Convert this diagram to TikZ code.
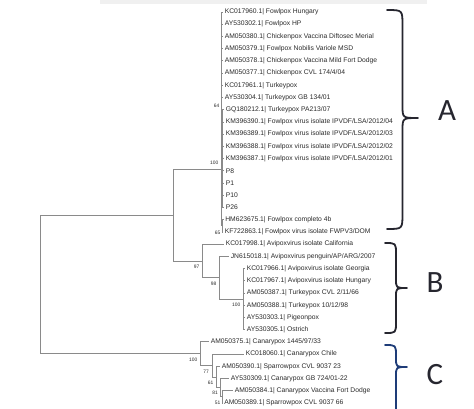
\documentclass[tikz,border=0pt]{standalone}
\usepackage{fontspec}
\setmainfont{Liberation Sans}
\newfontfamily\lettre{Carlito}
\definecolor{trait}{HTML}{8A8A8A}
\definecolor{texte}{HTML}{2A2A2A}
\definecolor{encre}{HTML}{26262F}
\definecolor{marine}{HTML}{1E3C78}

\newcommand{\feuille}[5]{\node[feuille] (#2) at (#3, #4) {#5};
\draw[branche] (#1) |- (#2.west);}
\newcommand{\support}[4]{\node[boot] (#1) at (#2, #3) {#4};}
\newcommand{\accolade}[6]{\draw[#1, line width=1.8pt, line cap=round, line join=round]
(#2, #3) .. controls ({#2+0.5*#6}, #3) .. ({#2+0.5*#6}, {#3+0.5*#6})
-- ({#2+0.5*#6}, {#4-0.4*#6}) .. controls ({#2+0.5*#6}, #4) .. ({#2+#6}, #4)
.. controls ({#2+0.5*#6}, #4) .. ({#2+0.5*#6}, {#4+0.4*#6})
-- ({#2+0.5*#6}, {#5-0.5*#6}) .. controls ({#2+0.5*#6}, #5) .. (#2, #5);}
\tikzset{
  branche/.style={draw=trait, line width=0.9pt},
  feuille/.style={anchor=west, inner xsep=1.6pt, inner ysep=0pt, font=\fontsize{6.75}{7}\selectfont, text=texte},
  boot/.style={anchor=east, inner sep=0pt, font=\fontsize{4.9}{5}\selectfont, text=texte},
  groupe/.style={inner sep=0pt, font=\lettre\fontsize{31}{31}\selectfont, text=encre}
}

\begin{document}
\begin{tikzpicture}[x=1pt, y=-1pt]
  \useasboundingbox (0,0) rectangle (474,408);
  \fill[gray!12] (100,0) rectangle (427,3.5);
  % noeuds internes
  \coordinate (racine) at (40, 284.6);
  \coordinate (ab) at (173, 215.4);
  \coordinate (a0) at (221, 169);
  \coordinate (a64) at (222.6, 158.6);
  \coordinate (a65) at (222, 225.9);
  \coordinate (b0) at (202, 261);
  \coordinate (b1) at (219, 277.8);
  \coordinate (b2) at (243, 299.2);
  \coordinate (c0) at (200, 353.7);
  \coordinate (c1) at (212, 365.6);
  \coordinate (c2) at (216, 377);
  \coordinate (c3) at (220, 387.7);
  \coordinate (c4) at (222, 396.9);
  \draw[branche] (racine) |- (ab);
  \draw[branche] (racine) |- (c0);
  \draw[branche] (ab) |- (a0);
  \draw[branche] (ab) |- (b0);
  \draw[branche] (a0) |- (a64);
  \draw[branche] (a0) |- (a65);
  \draw[branche] (b0) |- (b1);
  \draw[branche] (b1) |- (b2);
  \draw[branche] (c0) |- (c1);
  \draw[branche] (c1) |- (c2);
  \draw[branche] (c2) |- (c3);
  \draw[branche] (c3) |- (c4);
  % groupe A
  \feuille{a0}{kc960}{223}{12}{KC017960.1| Fowlpox Hungary}
  \feuille{a0}{ay302}{223}{24.2}{AY530302.1| Fowlpox HP}
  \feuille{a0}{am380}{223}{36.4}{AM050380.1| Chickenpox Vaccina Diftosec Merial}
  \feuille{a0}{am379}{223}{48.7}{AM050379.1| Fowlpox Nobilis Variole MSD}
  \feuille{a0}{am378}{223}{60.9}{AM050378.1| Chickenpox Vaccina Mild Fort Dodge}
  \feuille{a0}{am377}{223}{73.1}{AM050377.1| Chickenpox CVL 174/4/04}
  \feuille{a0}{kc961}{223}{85.3}{KC017961.1| Turkeypox}
  \feuille{a0}{ay304}{223}{97.5}{AY530304.1| Turkeypox GB 134/01}
  \feuille{a64}{gq212}{224}{109.8}{GQ180212.1| Turkeypox PA213/07}
  \feuille{a64}{km390}{224}{122}{KM396390.1| Fowlpox virus isolate IPVDF/LSA/2012/04}
  \feuille{a64}{km389}{224}{134.2}{KM396389.1| Fowlpox virus isolate IPVDF/LSA/2012/03}
  \feuille{a64}{km388}{224}{146.4}{KM396388.1| Fowlpox virus isolate IPVDF/LSA/2012/02}
  \feuille{a64}{km387}{224}{158.6}{KM396387.1| Fowlpox virus isolate IPVDF/LSA/2012/01}
  \feuille{a64}{p8}{224}{170.9}{P8}
  \feuille{a64}{p1}{224}{183.1}{P1}
  \feuille{a64}{p10}{224}{195.3}{P10}
  \feuille{a64}{p26}{224}{207.5}{P26}
  \feuille{a65}{hm675}{223.5}{219.7}{HM623675.1| Fowlpox completo 4b}
  \feuille{a65}{kf863}{223}{232}{KF722863.1| Fowlpox virus isolate FWPV3/DOM}
  % groupe B
  \feuille{b0}{kc998}{224}{244.2}{KC017998.1| Avipoxvirus isolate California}
  \feuille{b1}{jn018}{229}{256.4}{JN615018.1| Avipoxvirus penguin/AP/ARG/2007}
  \feuille{b2}{kc966}{245}{268.6}{KC017966.1| Avipoxvirus isolate Georgia}
  \feuille{b2}{kc967}{245}{280.8}{KC017967.1| Avipoxvirus isolate Hungary}
  \feuille{b2}{am387}{245}{293}{AM050387.1| Turkeypox CVL 2/11/66}
  \feuille{b2}{am388}{245}{305.3}{AM050388.1| Turkeypox 10/12/98}
  \feuille{b2}{ay303}{245}{317.5}{AY530303.1| Pigeonpox}
  \feuille{b2}{ay305}{245}{329.7}{AY530305.1| Ostrich}
  % groupe C
  \feuille{c0}{am375}{209}{341.9}{AM050375.1| Canarypox 1445/97/33}
  \feuille{c1}{kc060}{244}{354.1}{KC018060.1| Canarypox Chile}
  \feuille{c2}{am390}{220}{366.3}{AM050390.1| Sparrowpox CVL 9037 23}
  \feuille{c3}{ay309}{229}{378.6}{AY530309.1| Canarypox GB 724/01-22}
  \feuille{c4}{am384}{233}{390.8}{AM050384.1| Canarypox Vaccina Fort Dodge}
  \feuille{c4}{am389}{222.5}{403}{AM050389.1| Sparrowpox CVL 9037 66}
  % valeurs de bootstrap
  \support{s64}{219.5}{106}{64}
  \support{s100a}{218.5}{163}{100}
  \support{s65}{220.5}{232.5}{65}
  \support{s97}{199.5}{267}{97}
  \support{s98}{216.5}{284}{98}
  \support{s100b}{240.5}{305}{100}
  \support{s100c}{197.5}{360}{100}
  \support{s77}{209}{372}{77}
  \support{s61}{213.5}{382.5}{61}
  \support{s81}{218}{392.5}{81}
  \support{s51}{220.5}{403}{51}
  % accolades
  \accolade{encre}{387}{10}{118}{229}{31}
  \accolade{encre}{385}{243}{288}{333}{22}
  \accolade{marine}{385}{345}{367}{440}{22}
  \node[groupe] (lettreA) at (447, 111) {A};
  \node[groupe] (lettreB) at (435, 283) {B};
  \node[groupe] (lettreC) at (435, 375) {C};
\end{tikzpicture}
\end{document}
